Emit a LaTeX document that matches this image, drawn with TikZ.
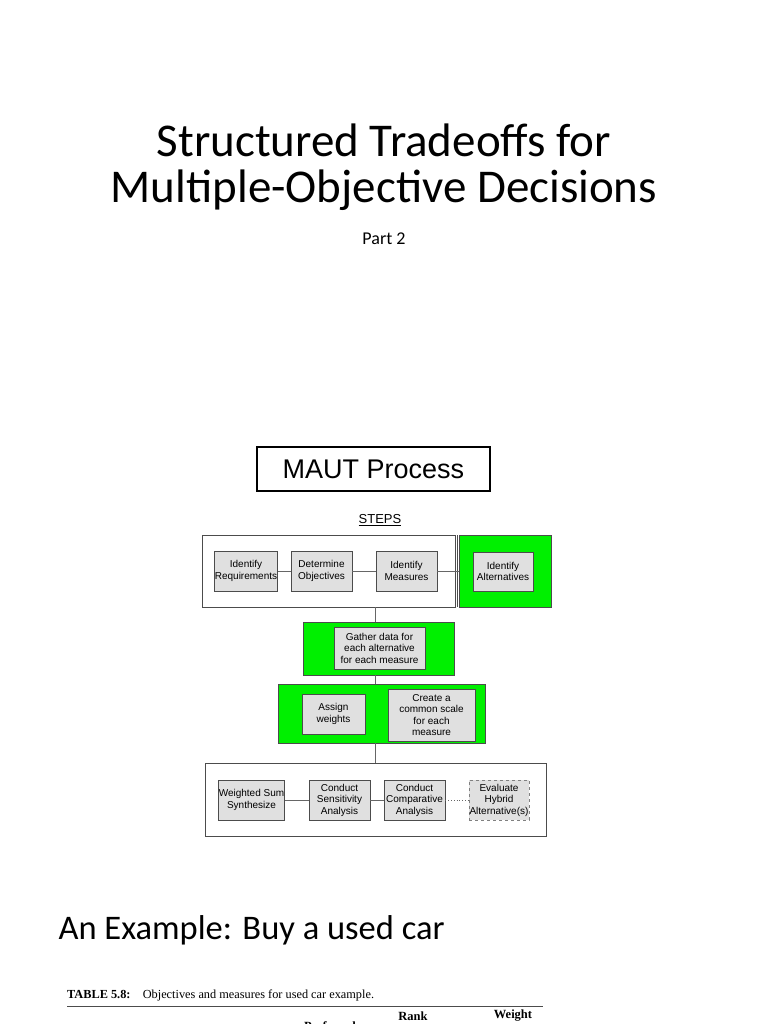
\documentclass[tikz,border=0pt]{standalone}
\usepackage{fontspec}
\setmainfont{Carlito}
\newfontfamily\arialf{Liberation Sans}
\newfontfamily\timesf{Liberation Serif}
\definecolor{boxgreen}{RGB}{0,240,0}
\definecolor{boxgray}{RGB}{224,224,224}
\begin{document}
\begin{tikzpicture}[x=1pt,y=-1pt,
  inbox/.style={draw=black!70,fill=boxgray,line width=0.8pt,align=center,font=\arialf\fontsize{10}{11.5}\selectfont,inner sep=0pt},
  grbox/.style={draw=black!70,fill=boxgreen,line width=0.8pt},
  wbox/.style={draw=black!70,fill=white,line width=0.8pt},
  ln/.style={draw=black!60,line width=0.8pt}]
\clip (0,0) rectangle (768,1024);
\useasboundingbox (0,0) rectangle (768,1024);
\fill[white] (0,0) rectangle (768,1024);
\node (t1) at (384,140) {\fontsize{47}{56}\selectfont Structured Tradeoffs for};
\node (t2) at (384,190) {\fontsize{47}{56}\selectfont Multiple-Objective Decisions};
\node (p2) at (384,239) {\fontsize{18}{21}\selectfont Part 2};
\node[draw,line width=1.2pt,minimum width=233,minimum height=44] (maut) at (373.5,469) {\arialf\fontsize{27}{32}\selectfont MAUT Process};
\node (steps) at (380,520) {\arialf\fontsize{13}{15}\selectfont \underline{STEPS}};
% top box
\path[wbox] (202,535) rectangle (455,607);
\draw[black!70,line width=0.8pt] (457,535) -- (457,607);
\path[grbox] (459,535) rectangle (551,607);
\node[inbox,minimum width=62,minimum height=40] (ir) at (246,571) {Identify\\Requirements};
\node[inbox,minimum width=61,minimum height=40] (do) at (321.5,571) {Determine\\Objectives};
\node[inbox,minimum width=61,minimum height=40] (im) at (406.5,571) {Identify\\Measures};
\node[inbox,minimum width=60,minimum height=39] (ia) at (503,571.5) {Identify\\Alternatives};
\draw[ln] (ir) -- (do); \draw[ln] (do) -- (im); \draw[ln] (im) -- (459,571);
% gather
\coordinate (c1) at (375,607);
\path[grbox] (303,622) rectangle (454,675);
\node[inbox,minimum width=91,minimum height=42] (gd) at (379.5,648) {Gather data for\\each alternative\\for each measure};
\draw[ln] (c1) -- (375,622);
\draw[ln] (375,675) -- (375,684);
% weights
\path[grbox] (278,684) rectangle (485,743);
\node[inbox,minimum width=63,minimum height=40] (aw) at (333.5,714) {Assign\\weights};
\node[inbox,minimum width=87,minimum height=52] (cs) at (431.5,715) {Create a\\common scale\\for each\\measure};
\draw[ln] (375,743) -- (375,763);
% bottom
\path[wbox] (205,763) rectangle (546,836);
\node[inbox,minimum width=65,minimum height=40] (ws) at (251.5,800) {Weighted Sum\\Synthesize};
\node[inbox,minimum width=61,minimum height=40] (sa) at (339.5,800) {Conduct\\Sensitivity\\Analysis};
\node[inbox,minimum width=61,minimum height=40] (ca) at (414.5,800) {Conduct\\Comparative\\Analysis};
\node[inbox,dashed,draw=black!50,minimum width=60,minimum height=40] (eh) at (499,800) {Evaluate\\Hybrid\\Alternative(s)};
\draw[ln,line width=1pt] (ws) -- (sa); \draw[ln,line width=1pt] (sa) -- (ca);
\draw[ln,dotted,line width=1pt] (ca) -- (eh);
% example
\node[anchor=west] (ex) at (55,930) {\fontsize{34.5}{40}\selectfont An Example: Buy a used car};
\node[anchor=west,inner sep=0pt] (tb) at (67,995) {\timesf\fontsize{12.3}{14}\selectfont\textbf{TABLE 5.8:}\quad Objectives and measures for used car example.};
\draw[line width=1pt,black!70] (67,1006) -- (543,1006);
\node (rk) at (413,1016) {\timesf\bfseries\fontsize{12.5}{14}\selectfont Rank};
\node (wt) at (513,1016) {\timesf\bfseries\fontsize{12.5}{14}\selectfont Weight};
\node (pf) at (330,1026) {\timesf\bfseries\fontsize{12.5}{14}\selectfont Preferred};
\end{tikzpicture}
\end{document}
